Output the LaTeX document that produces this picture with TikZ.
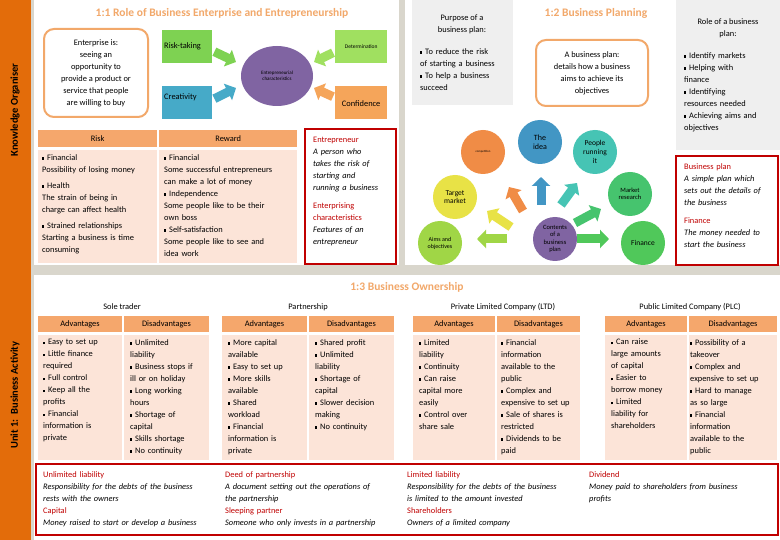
\documentclass[tikz,border=0pt]{standalone}
\usepackage{fontspec}
\setmainfont{Carlito}
\usetikzlibrary{arrows.meta,shapes.geometric}
\definecolor{org}{HTML}{E36C0A}
\definecolor{ttl}{HTML}{F2A86A}
\definecolor{hdr}{HTML}{F5A76C}
\definecolor{pnk}{HTML}{FCE4D8}
\definecolor{rd}{HTML}{C00000}
\definecolor{gry}{HTML}{EFEFEF}
\definecolor{band}{HTML}{D9D6CC}
\definecolor{purp}{HTML}{8064A2}
\newcommand{\bul}{\rule[0.5pt]{2.2pt}{2.2pt}\ }
\begin{document}
\begin{tikzpicture}[x=1pt,y=-1pt,
  txt/.style={font=\fontsize{8.4}{12}\selectfont,align=left,anchor=north west,inner sep=0pt},
  ctxt/.style={font=\fontsize{8.4}{12}\selectfont,align=center,inner sep=0pt},
  ttlst/.style={font=\fontsize{11.5}{13}\bfseries\selectfont,text=ttl},
  hd/.style={fill=hdr,font=\fontsize{8.4}{10}\selectfont,inner sep=0pt},
  redbox/.style={draw=rd,line width=2pt},
  blk/.style={-{Triangle[length=9pt,width=18pt]},line width=9pt},
  circ/.style={circle,minimum size=44pt,inner sep=0pt,font=\fontsize{6.5}{7.5}\selectfont,align=center}
]
\useasboundingbox (0,0) rectangle (780,540);
\fill[white] (0,0) rectangle (780,540);
% left strip
\fill[org] (0,0) rectangle (31,540);
\fill[band] (31,0) rectangle (34,540);
\node[rotate=90,text=black,font=\fontsize{10.5}{12}\bfseries\selectfont] (ko) at (15,110) {Knowledge Organiser};
\node[rotate=90,text=black,font=\fontsize{10.5}{12}\bfseries\selectfont] (ua) at (15,395) {Unit 1:\ \ Business Activity};
\fill[band] (34,265) rectangle (780,275);
\fill[band] (399,0) rectangle (405,265);

% ===== 1:1 =====
\node[ttlst] (t1) at (222,13) {1:1 Role of Business Enterprise and Entrepreneurship};
\node[draw=ttl,line width=2pt,rounded corners=10pt,minimum width=104pt,minimum height=88pt,ctxt] (ent) at (96,73) {Enterprise is:\\ seeing an\\ opportunity to\\ provide a product or\\ service that people\\ are willing to buy};
\node[fill=purp,ellipse,minimum width=72pt,minimum height=60pt,font=\fontsize{5}{6}\selectfont,align=center,inner sep=0pt] (ec) at (277,76) {Entrepreneurial\\ characteristics};
\node[fill={rgb,255:red,126;green,210;blue,82},minimum width=50pt,minimum height=33pt,font=\fontsize{8.4}{10}\selectfont,anchor=north west,inner sep=2pt,align=left,text width=46pt] (rt) at (162,30) {Risk-taking};
\node[fill={rgb,255:red,70;green,170;blue,200},minimum width=50pt,minimum height=33pt,font=\fontsize{8.4}{10}\selectfont,anchor=north west,inner sep=2pt,text width=46pt] (cr) at (162,86) {\vspace*{10pt}Creativity};
\node[fill={rgb,255:red,160;green,224;blue,96},minimum width=52pt,minimum height=33pt,font=\fontsize{5.5}{7}\selectfont,anchor=north west,inner sep=1pt] (de) at (335,30) {Determination};
\node[fill={rgb,255:red,245;green,165;blue,90},minimum width=52pt,minimum height=33pt,font=\fontsize{8.4}{10}\selectfont,anchor=north west,inner sep=1pt] (co) at (335,86) {\raisebox{-8pt}{Confidence}};
\draw[blk,color={rgb,255:red,126;green,210;blue,82}] (rt.east) ++(2,5) -- (236,62);
\draw[blk,color={rgb,255:red,70;green,170;blue,200}] (cr.east) ++(2,-4) -- (236,88);
\draw[blk,color={rgb,255:red,160;green,224;blue,96}] (de.west) ++(-2,6) -- (314,62);
\draw[blk,color={rgb,255:red,245;green,165;blue,90}] (co.west) ++(-2,-6) -- (314,88);
% risk/reward
\node[hd,minimum width=119pt,minimum height=17pt,anchor=north west] (rh) at (38,130) {Risk};
\node[hd,minimum width=138pt,minimum height=17pt,anchor=north west] (wh) at (159,130) {Reward};
\fill[pnk] (38,150) rectangle (157,263);
\fill[pnk] (159,150) rectangle (297,263);
\node[txt,text width=118pt] (rb) at (42,154) {\bul Financial\\Possibility of losing money\\[4pt]\bul Health\\The strain of being in\\charge can affect health\\[4pt]\bul Strained relationships\\Starting a business is time\\consuming};
\node[txt,text width=135pt] (wb) at (164,154) {\bul Financial\\Some successful entrepreneurs\\can make a lot of money\\\bul Independence\\Some people like to be their\\own boss\\\bul Self-satisfaction\\Some people like to see and\\idea work};
\draw[redbox] (305,129) rectangle (396,264);
\node[txt,text width=88pt] (d1) at (313,137) {\textcolor{rd}{Entrepreneur}\\\textit{A person who}\\\textit{takes the risk of}\\\textit{starting and}\\\textit{running a business}\\[6pt]\textcolor{rd}{Enterprising}\\\textcolor{rd}{characteristics}\\\textit{Features of an}\\\textit{entrepreneur}};

% ===== 1:2 =====
\fill[gry] (412,0) rectangle (513,105);
\node[ctxt] (pp) at (462,24) {Purpose of a\\business plan:};
\node[txt,text width=98pt] (ppb) at (420,48) {\bul To reduce the risk\\of starting a business\\\bul To help a business\\succeed};
\node[ttlst] (t2) at (596,13) {1:2 Business Planning};
\node[draw=ttl,line width=2pt,rounded corners=10pt,minimum width=112pt,minimum height=66pt,ctxt] (bp) at (592,73) {A business plan:\\details how a business\\aims to achieve its\\objectives};
\fill[gry] (676,0) rectangle (780,150);
\node[ctxt] (rp) at (728,28) {Role of a business\\plan:};
\node[txt,text width=98pt] (rpb) at (684,52) {\bul Identify markets\\\bul Helping with\\finance\\\bul Identifying\\resources needed\\\bul Achieving aims and\\objectives};
\draw[redbox] (676,156) rectangle (778,265);
\node[txt,text width=98pt] (d2) at (684,163) {\textcolor{rd}{Business plan}\\\textit{A simple plan which}\\\textit{sets out the details of}\\\textit{the business}\\[6pt]\textcolor{rd}{Finance}\\\textit{The money needed to}\\\textit{start the business}};
% circles
\node[circ,fill=purp] (cc) at (555,239) {Contents\\of a\\business\\plan};
\node[circ,fill={rgb,255:red,66;green,150;blue,196},font=\fontsize{8}{9}\selectfont] (ci) at (540,142) {The\\idea};
\node[circ,fill={rgb,255:red,240;green,140;blue,70},font=\fontsize{3}{4}\selectfont] (cp) at (483,152) {competition};
\node[circ,fill={rgb,255:red,70;green,196;blue,180},font=\fontsize{7.5}{9}\selectfont] (cpr) at (595,152) {People\\running\\it};
\node[circ,fill={rgb,255:red,232;green,226;blue,70},font=\fontsize{7.5}{8}\selectfont] (ct) at (455,197) {Target\\market};
\node[circ,fill={rgb,255:red,70;green,196;blue,110},font=\fontsize{6.5}{7.5}\selectfont] (cm) at (630,194) {Market\\research};
\node[circ,fill={rgb,255:red,160;green,214;blue,70},font=\fontsize{6}{7}\selectfont] (ca) at (440,243) {Aims and\\objectives};
\node[circ,fill={rgb,255:red,80;green,200;blue,90},font=\fontsize{7.5}{9}\selectfont] (cf) at (643,243) {Finance};
\draw[blk,color={rgb,255:red,66;green,150;blue,196}] (cc) ++(-14,-34) -- ++(0,-28);
\draw[blk,color={rgb,255:red,240;green,140;blue,70}] (cc) ++(-32,-28) -- ++(-14,-24);
\draw[blk,color={rgb,255:red,70;green,196;blue,180}] (cc) ++(6,-34) -- ++(16,-22);
\draw[blk,color={rgb,255:red,232;green,226;blue,70}] (cc) ++(-44,-12) -- ++(-24,-16);
\draw[blk,color={rgb,255:red,70;green,196;blue,110}] (cc) ++(20,-16) -- ++(26,-14);
\draw[blk,color={rgb,255:red,160;green,214;blue,70}] (cc) ++(-48,0) -- ++(-30,0);
\draw[blk,color={rgb,255:red,80;green,200;blue,90}] (cc) ++(22,0) -- ++(32,0);

% ===== 1:3 =====
\node[ttlst] (t3) at (407,287) {1:3 Business Ownership};
\node[ctxt] (st) at (122,307) {Sole trader};
\node[ctxt] (pa) at (308,307) {Partnership};
\node[ctxt] (lt) at (503,307) {Private Limited Company (LTD)};
\node[ctxt] (pl) at (690,307) {Public Limited Company (PLC)};
\foreach \n/\a/\b in {h1/38/122,h2/124/209,h3/222/307,h4/309/394,h5/413/495,h6/497/580,h7/605/687,h8/689/777}{
  \fill[hdr] (\a,316) rectangle (\b,332);
  \fill[pnk] (\a,335) rectangle (\b,460);
}
\foreach \n/\x/\t in {a1/80/Advantages,a2/166.5/Disadvantages,a3/264.5/Advantages,a4/351.5/Disadvantages,a5/454/Advantages,a6/538.5/Disadvantages,a7/646/Advantages,a8/733/Disadvantages}
  \node[font=\fontsize{8.4}{10}\selectfont] (\n) at (\x,324.5) {\t};
\node[txt,text width=82pt] (b1) at (43,339) {\bul Easy to set up\\\bul Little finance\\required\\\bul Full control\\\bul Keep all the\\profits\\\bul Financial\\information is\\private};
\node[txt,text width=82pt] (b2) at (130,339) {\bul Unlimited\\liability\\\bul Business stops if\\ill or on holiday\\\bul Long working\\hours\\\bul Shortage of\\capital\\\bul Skills shortage\\\bul No continuity};
\node[txt,text width=82pt] (b3) at (228,339) {\bul More capital\\available\\\bul Easy to set up\\\bul More skills\\available\\\bul Shared\\workload\\\bul Financial\\information is\\private};
\node[txt,text width=82pt] (b4) at (315,339) {\bul Shared profit\\\bul Unlimited\\liability\\\bul Shortage of\\capital\\\bul Slower decision\\making\\\bul No continuity};
\node[txt,text width=80pt] (b5) at (419,339) {\bul Limited\\liability\\\bul Continuity\\\bul Can raise\\capital more\\easily\\\bul Control over\\share sale};
\node[txt,text width=82pt] (b6) at (501,339) {\bul Financial\\information\\available to the\\public\\\bul Complex and\\expensive to set up\\\bul Sale of shares is\\restricted\\\bul Dividends to be\\paid};
\node[txt,text width=80pt] (b7) at (611,339) {\bul Can raise\\large amounts\\of capital\\\bul Easier to\\borrow money\\\bul Limited\\liability for\\shareholders};
\node[txt,text width=86pt] (b8) at (690,339) {\bul Possibility of a\\takeover\\\bul Complex and\\expensive to set up\\\bul Hard to manage\\as so large\\\bul Financial\\information\\available to the\\public};
\draw[redbox] (36,464) rectangle (778,535);
\node[txt,text width=185pt] (e1) at (43,471) {\textcolor{rd}{Unlimited liability}\\\textit{Responsibility for the debts of the business}\\\textit{rests with the owners}\\\textcolor{rd}{Capital}\\\textit{Money raised to start or develop a business}};
\node[txt,text width=185pt] (e2) at (225,471) {\textcolor{rd}{Deed of partnership}\\\textit{A document setting out the operations of}\\\textit{the partnership}\\\textcolor{rd}{Sleeping partner}\\\textit{Someone who only invests in a partnership}};
\node[txt,text width=185pt] (e3) at (407,471) {\textcolor{rd}{Limited liability}\\\textit{Responsibility for the debts of the business}\\\textit{is limited to the amount invested}\\\textcolor{rd}{Shareholders}\\\textit{Owners of a limited company}};
\node[txt,text width=185pt] (e4) at (589,471) {\textcolor{rd}{Dividend}\\\textit{Money paid to shareholders from business}\\\textit{profits}};
\end{tikzpicture}
\end{document}
